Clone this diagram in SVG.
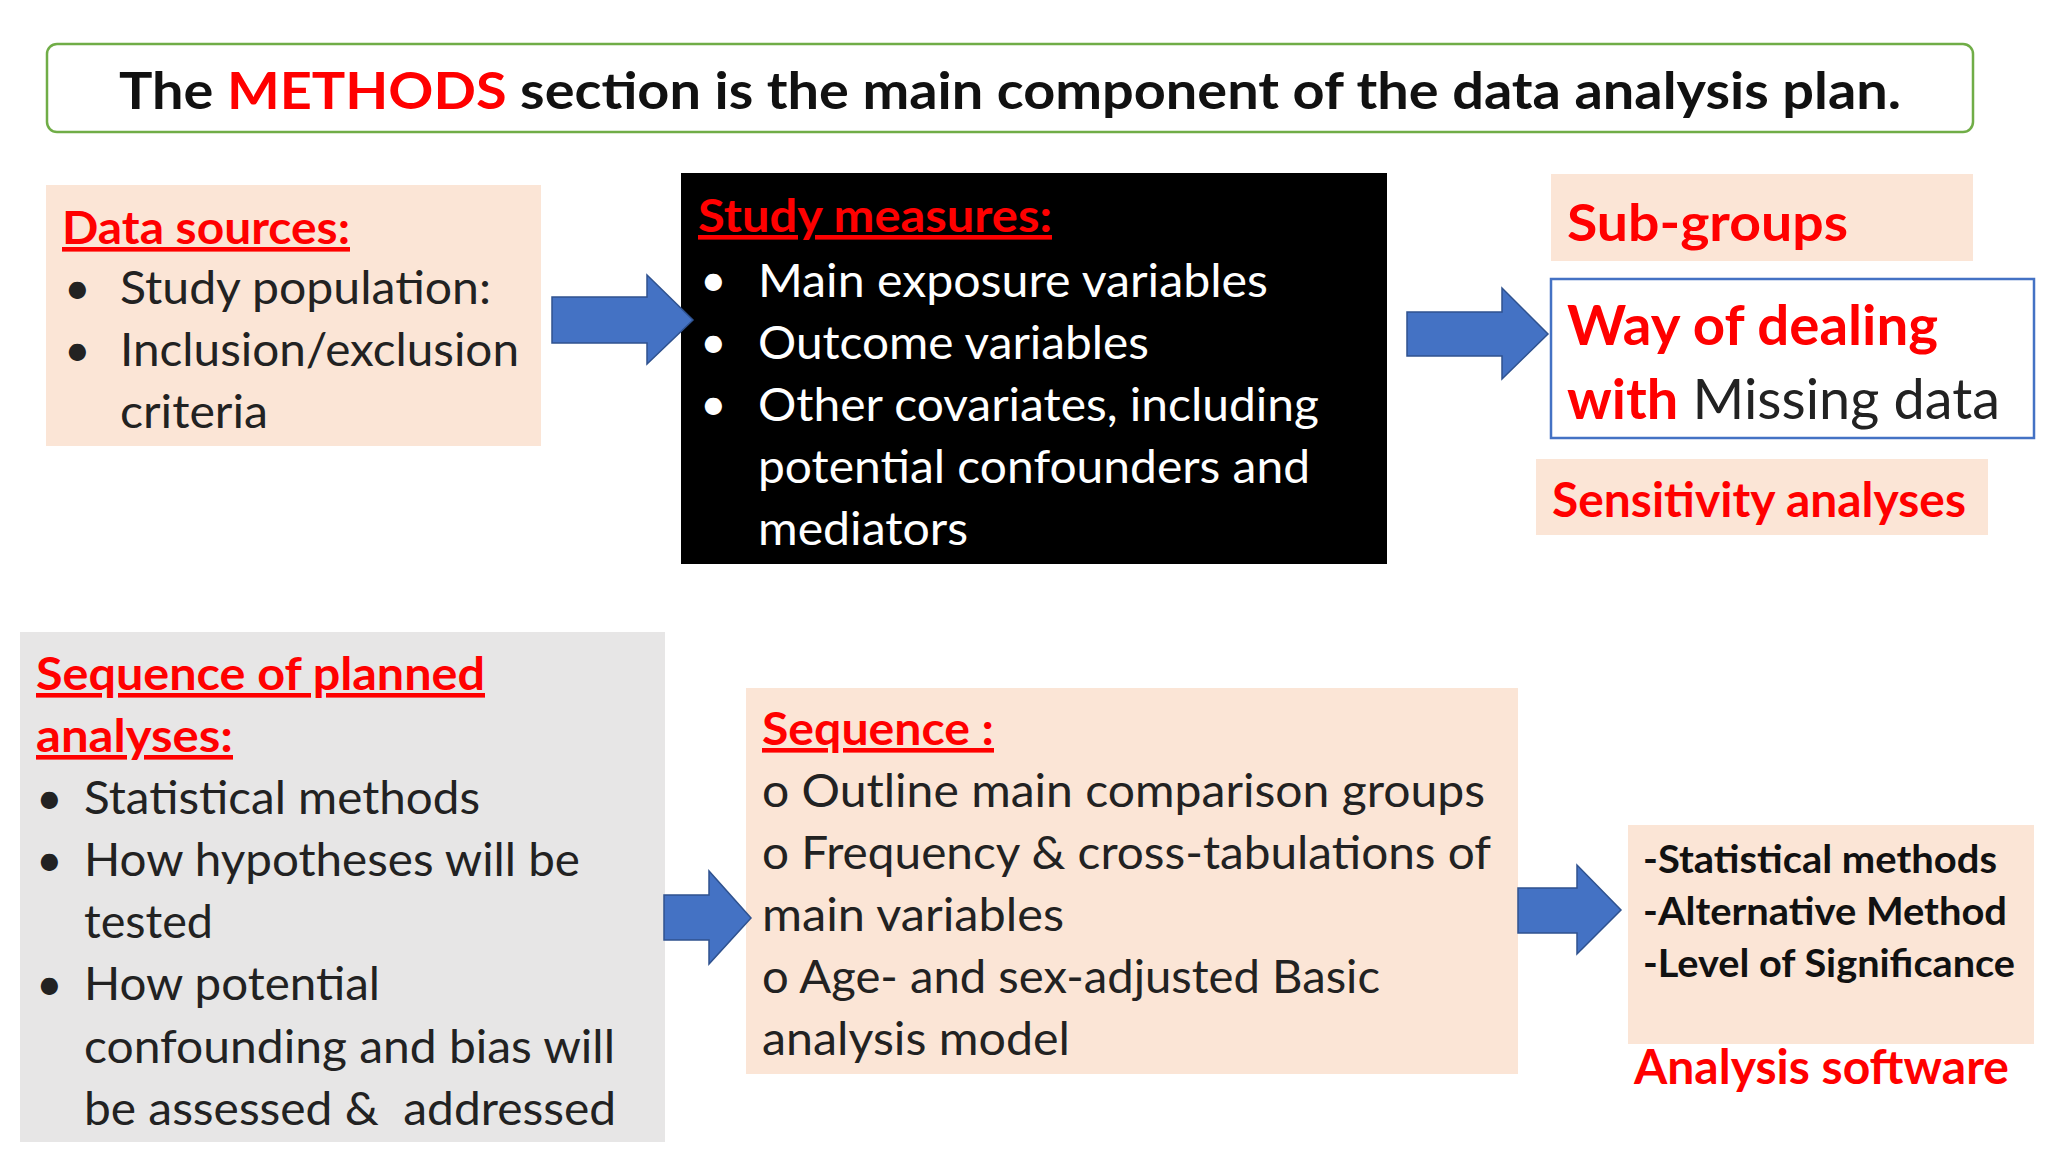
<svg xmlns="http://www.w3.org/2000/svg" width="2048" height="1152" viewBox="0 0 2048 1152">
<style>
text{font-family:Lato,"Open Sans","Liberation Sans",sans-serif;}
.b{font-size:46px;fill:#222;}
.w{font-size:46px;fill:#fff;}
.h{font-size:46px;fill:#f00;font-weight:bold;text-decoration:underline;}
.r{fill:#f00;font-weight:bold;}
.peach{fill:#fbe5d6;}
.arr{fill:#4472c4;stroke:#2f528f;stroke-width:1.5;}
</style>
<rect width="2048" height="1152" fill="#fff"/>
<g id="title">
<rect x="47" y="44" width="1926" height="88" rx="10" fill="#fff" stroke="#70ad47" stroke-width="2.5"/>
<text x="119" y="109" font-size="52" font-weight="bold" fill="#111" textLength="1782" lengthAdjust="spacingAndGlyphs">The <tspan fill="#f00">METHODS</tspan> section is the main component of the data analysis plan.</text>
</g>
<g id="data-sources">
<rect class="peach" x="46" y="185" width="495" height="261"/>
<text class="h" x="62" y="244" textLength="288" lengthAdjust="spacingAndGlyphs">Data sources:</text>
<text class="b" x="64" y="304">•</text><text class="b" x="120" y="304" textLength="371" lengthAdjust="spacingAndGlyphs">Study population:</text>
<text class="b" x="64" y="366">•</text><text class="b" x="120" y="366" textLength="399" lengthAdjust="spacingAndGlyphs">Inclusion/exclusion</text>
<text class="b" x="120" y="428" textLength="148" lengthAdjust="spacingAndGlyphs">criteria</text>
</g>
<g id="study-measures">
<rect x="681" y="173" width="706" height="391" fill="#000"/>
<text class="h" x="698" y="232" textLength="354" lengthAdjust="spacingAndGlyphs">Study measures:</text>
<text class="w" x="700" y="296">•</text><text class="w" x="758" y="297" textLength="510" lengthAdjust="spacingAndGlyphs">Main exposure variables</text>
<text class="w" x="700" y="358">•</text><text class="w" x="758" y="359" textLength="391" lengthAdjust="spacingAndGlyphs">Outcome variables</text>
<text class="w" x="700" y="420">•</text><text class="w" x="758" y="421" textLength="561" lengthAdjust="spacingAndGlyphs">Other covariates, including</text>
<text class="w" x="758" y="483" textLength="552" lengthAdjust="spacingAndGlyphs">potential confounders and</text>
<text class="w" x="758" y="545" textLength="210" lengthAdjust="spacingAndGlyphs">mediators</text>
</g>
<g id="sub-groups">
<rect class="peach" x="1551" y="174" width="422" height="87"/>
<text class="r" x="1567" y="241" font-size="52" textLength="281" lengthAdjust="spacingAndGlyphs">Sub-groups</text>
</g>
<g id="missing-data">
<rect x="1551" y="279" width="483" height="159" fill="#fff" stroke="#4472c4" stroke-width="2.5"/>
<text class="r" x="1567" y="345" font-size="56" textLength="371" lengthAdjust="spacingAndGlyphs">Way of dealing</text>
<text x="1567" y="419" font-size="56" fill="#222" textLength="433" lengthAdjust="spacingAndGlyphs"><tspan class="r">with</tspan> Missing data</text>
</g>
<g id="sensitivity">
<rect class="peach" x="1536" y="459" width="452" height="76"/>
<text class="r" x="1552" y="517" font-size="48" textLength="414" lengthAdjust="spacingAndGlyphs">Sensitivity analyses</text>
</g>
<g id="planned-analyses">
<rect x="20" y="632" width="645" height="510" fill="#e7e6e6"/>
<text class="h" x="36" y="690" textLength="449" lengthAdjust="spacingAndGlyphs">Sequence of planned</text>
<text class="h" x="36" y="752" textLength="197" lengthAdjust="spacingAndGlyphs">analyses:</text>
<text class="b" x="36" y="814">•</text><text class="b" x="84" y="814" textLength="396" lengthAdjust="spacingAndGlyphs">Statistical methods</text>
<text class="b" x="36" y="876">•</text><text class="b" x="84" y="876" textLength="496" lengthAdjust="spacingAndGlyphs">How hypotheses will be</text>
<text class="b" x="84" y="938" textLength="129" lengthAdjust="spacingAndGlyphs">tested</text>
<text class="b" x="36" y="1000">•</text><text class="b" x="84" y="1000" textLength="296" lengthAdjust="spacingAndGlyphs">How potential</text>
<text class="b" x="84" y="1063" textLength="531" lengthAdjust="spacingAndGlyphs">confounding and bias will</text>
<text class="b" x="84" y="1125" textLength="532" lengthAdjust="spacingAndGlyphs" xml:space="preserve">be assessed &amp;  addressed</text>
</g>
<g id="sequence">
<rect class="peach" x="746" y="688" width="772" height="386"/>
<text class="h" x="762" y="745" textLength="232" lengthAdjust="spacingAndGlyphs">Sequence :</text>
<text class="b" x="762" y="807" textLength="723" lengthAdjust="spacingAndGlyphs">o Outline main comparison groups</text>
<text class="b" x="762" y="869" textLength="729" lengthAdjust="spacingAndGlyphs">o Frequency &amp; cross-tabulations of</text>
<text class="b" x="762" y="931" textLength="302" lengthAdjust="spacingAndGlyphs">main variables</text>
<text class="b" x="762" y="993" textLength="618" lengthAdjust="spacingAndGlyphs">o Age- and sex-adjusted Basic</text>
<text class="b" x="762" y="1055" textLength="308" lengthAdjust="spacingAndGlyphs">analysis model</text>
</g>
<g id="methods-list">
<rect class="peach" x="1628" y="825" width="406" height="219"/>
<text x="1643" y="873" font-size="39" font-weight="bold" fill="#111" textLength="354" lengthAdjust="spacingAndGlyphs">-Statistical methods</text>
<text x="1643" y="925" font-size="39" font-weight="bold" fill="#111" textLength="364" lengthAdjust="spacingAndGlyphs">-Alternative Method</text>
<text x="1643" y="977" font-size="39" font-weight="bold" fill="#111" textLength="372" lengthAdjust="spacingAndGlyphs">-Level of Significance</text>
</g>
<g id="analysis-software">
<text class="r" x="1634" y="1084" font-size="48" textLength="375" lengthAdjust="spacingAndGlyphs">Analysis software</text>
</g>
<g id="connectors">
<polygon class="arr" points="552,297 647,297 647,275 693,320 647,364 647,343 552,343"/>
<polygon class="arr" points="1407,312 1502,312 1502,288 1548,334 1502,379 1502,356 1407,356"/>
<polygon class="arr" points="664,895 709,895 709,871 751,918 709,964 709,940 664,940"/>
<polygon class="arr" points="1518,888 1577,888 1577,865 1621,910 1577,954 1577,933 1518,933"/>
</g>
</svg>
